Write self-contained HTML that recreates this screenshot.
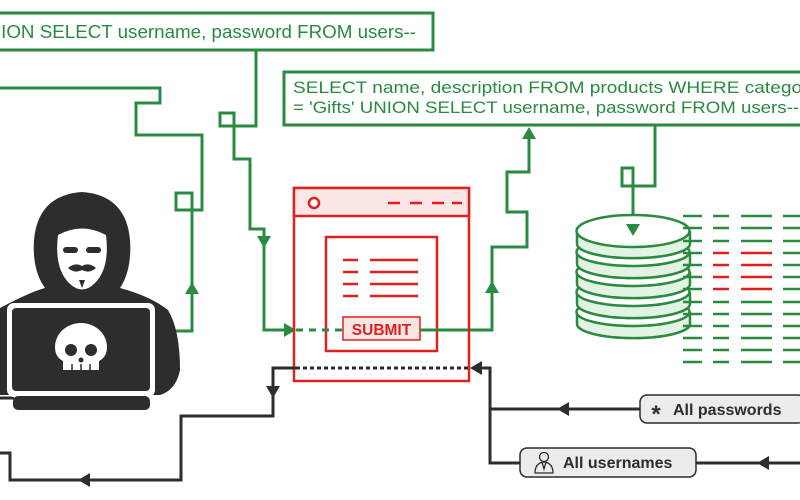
<!DOCTYPE html>
<html><head><meta charset="utf-8"><style>
html,body{margin:0;padding:0;background:#fff;width:800px;height:500px;overflow:hidden}
svg{display:block}
text{font-family:"Liberation Sans",sans-serif}
</style></head><body>
<svg width="800" height="500" viewBox="0 0 800 500" xmlns="http://www.w3.org/2000/svg">
<g fill="none" stroke="#2a8a40" stroke-width="3">
<rect x="-10" y="13" width="443" height="37" fill="#fff"/>
<rect x="284" y="72" width="530" height="53" fill="#fff"/>
<polyline points="0,88 160,88 160,103 136,103 136,135 202,135 202,210 176,210 176,193 192,193 192,331 175,331"/>
<polyline points="256,50 256,126 220,126 220,113 234,113 234,159 250,159 250,229 264,229 264,330 288,330"/>
<line x1="296" y1="330" x2="470" y2="330" stroke-dasharray="7,6"/>
<polyline points="470,330 492,330 492,247 527,247 527,212 507,212 507,172 529,172 529,135"/>
<polyline points="655,125 655,186 622,186 622,168 633,168 633,225"/>
</g>
<g fill="#2a8a40">
<path d="M192,282 l-7,12 h14z"/>
<path d="M264,248 l-7,-12 h14z"/>
<path d="M296,330 l-12,-7 v14z"/>
<path d="M492,281 l-7,12 h14z"/>
<path d="M529,127 l-7,12 h14z"/>
</g>
<text x="-26" y="38" font-size="18.5" fill="#2a8a40" textLength="442" lengthAdjust="spacingAndGlyphs">UNION SELECT username, password FROM users--</text>
<text x="293" y="93" font-size="17" fill="#2a8a40" textLength="525" lengthAdjust="spacingAndGlyphs">SELECT name, description FROM products WHERE category</text>
<text x="293" y="113" font-size="17" fill="#2a8a40" textLength="506" lengthAdjust="spacingAndGlyphs">= 'Gifts' UNION SELECT username, password FROM users--</text>

<g stroke="#2a8a40" stroke-width="2.5" fill="#e3f3e3">
<path d="M577,312 v12 a56,14 0 0 0 113,0 v-12"/>
<ellipse cx="633" cy="312" rx="56.5" ry="14" fill="#fff"/>
<path d="M577,292 v12 a56,14 0 0 0 113,0 v-12"/>
<ellipse cx="633" cy="292" rx="56.5" ry="14" fill="#fff"/>
<path d="M577,272 v12 a56,14 0 0 0 113,0 v-12"/>
<ellipse cx="633" cy="272" rx="56.5" ry="14" fill="#fff"/>
<path d="M577,252 v12 a56,14 0 0 0 113,0 v-12"/>
<ellipse cx="633" cy="252" rx="56.5" ry="14" fill="#fff"/>
<path d="M577,231 v13 a56,14 0 0 0 113,0 v-13"/>
<ellipse cx="633" cy="231" rx="56.5" ry="16" fill="#fff"/>
</g>
<path d="M633,236 l-7,-12 h14z" fill="#2a8a40"/>
<g stroke="#2a8a40" stroke-width="2.5">
<path d="M683,216h19M713,216h16M741,216h31M783,216h20 M683,228h19M713,228h16M741,228h31M783,228h20 M683,241h19M713,241h16M741,241h31M783,241h20 M683,253h19M783,253h20 M683,265h19M783,265h20 M683,277h19M783,277h20 M683,289h19M783,289h20 M683,302h19M713,302h16M741,302h31M783,302h20 M683,314h19M713,314h16M741,314h31M783,314h20 M683,326h19M713,326h16M741,326h31M783,326h20 M683,338h19M713,338h16M741,338h31M783,338h20 M683,350h19M713,350h16M741,350h31M783,350h20 M683,362h19M713,362h16M741,362h31M783,362h20"/>
</g>
<g stroke="#e0201e" stroke-width="2.5">
<path d="M713,253h16M741,253h31 M713,265h16M741,265h31 M713,277h16M741,277h31 M713,289h16M741,289h31"/>
</g>

<g stroke="#e0201e" stroke-width="2.5" fill="none">
<rect x="294" y="188" width="175" height="193"/>
<rect x="294" y="188" width="175" height="28" fill="#fbe6e6"/>
<circle cx="314" cy="203" r="5" fill="#fff"/>
<path d="M388,203h12M410,203h12M432,203h12M452,203h10"/>
<rect x="326" y="237" width="111" height="114"/>
<path d="M343,260h15M370,260h48 M343,272h15M370,272h48 M343,284h15M370,284h48 M343,296h15M370,296h48"/>
<rect x="343" y="317" width="77" height="23" fill="#fbe6e6" stroke-width="1.5"/>
</g>
<line x1="296" y1="330" x2="343" y2="330" stroke="#2a8a40" stroke-width="3" stroke-dasharray="7,6"/>
<line x1="420" y1="330" x2="470" y2="330" stroke="#2a8a40" stroke-width="3" stroke-dasharray="7,6"/>
<text x="381.5" y="335" font-size="15.5" font-weight="bold" fill="#e0201e" text-anchor="middle">SUBMIT</text>

<g stroke="#2d2d2d" stroke-width="3" fill="none">
<line x1="296" y1="368" x2="470" y2="368" stroke-dasharray="4,3"/>
<polyline points="296,368 273,368 273,416 181,416 181,480 10,480 10,453 0,453"/>
<polyline points="476,368 490,368 490,463 520,463"/>
<line x1="490" y1="409" x2="640" y2="409"/>
<line x1="696" y1="463" x2="800" y2="463"/>
<line x1="0" y1="398" x2="14" y2="398"/>
</g>
<g fill="#2d2d2d">
<path d="M273,398 l-7,-12 h14z"/>
<path d="M78,480 l12,-7 v14z"/>
<path d="M470,368 l12,-7 v14z"/>
<path d="M557,409 l12,-7 v14z"/>
<path d="M757,463 l12,-7 v14z"/>
</g>
<rect x="640" y="395" width="165" height="28" rx="7" fill="#ececec" stroke="#2d2d2d" stroke-width="1.5"/>
<text x="656" y="422" font-size="24" font-weight="bold" fill="#2d2d2d" text-anchor="middle">*</text>
<text x="673" y="415" font-size="16" font-weight="bold" fill="#2d2d2d">All passwords</text>
<rect x="520" y="448" width="176" height="29" rx="7" fill="#ececec" stroke="#2d2d2d" stroke-width="1.5"/>
<g stroke="#2d2d2d" stroke-width="1.3" fill="none">
<circle cx="544" cy="457" r="4.5"/>
<path d="M535,473 q0,-10 9,-11 q9,1 9,11 z M542,462 l2,7 l2,-7"/>
</g>
<text x="563" y="468" font-size="16" font-weight="bold" fill="#2d2d2d">All usernames</text>

<g fill="#2d2d2d">
<path d="M0,308 Q30,292 45,288 Q32,270 34,240 Q38,195 82,192 Q126,195 130,240 Q132,270 120,288 Q150,296 168,310 Q180,330 180,370 Q176,390 160,395 L0,395 Z"/>
</g>
<path d="M58,235 Q82,222 106,235 Q110,268 95,283 Q82,296 69,283 Q54,268 58,235 Z" fill="#fff"/>
<g fill="#2d2d2d">
<rect x="63" y="247" width="15" height="6" rx="3"/>
<rect x="86" y="247" width="15" height="6" rx="3"/>
<path d="M68,268 q7,-6 14,-2 q7,-4 14,2 q-7,6 -14,2 q-7,4 -14,-2z"/>
<path d="M79,280 h6 l-3,8z"/>
</g>
<rect x="7" y="303" width="148" height="94" rx="7" fill="#fff"/>
<rect x="12" y="308" width="138" height="83" rx="4" fill="#2d2d2d"/>
<rect x="13" y="396" width="137" height="14" rx="5" fill="#2d2d2d"/>
<g>
<path d="M81,323 a26,24 0 0 1 26,24 q0,10 -8,14 v9 h-36 v-9 q-8,-4 -8,-14 a26,24 0 0 1 26,-24z" fill="#fff"/>
<circle cx="71" cy="350" r="6" fill="#2d2d2d"/>
<circle cx="91" cy="350" r="6" fill="#2d2d2d"/>
<circle cx="81" cy="360" r="2.5" fill="#2d2d2d"/>
<path d="M72,364 v6 M81,364 v6 M90,364 v6" stroke="#2d2d2d" stroke-width="1.5"/>
</g>
</svg>
</body></html>
